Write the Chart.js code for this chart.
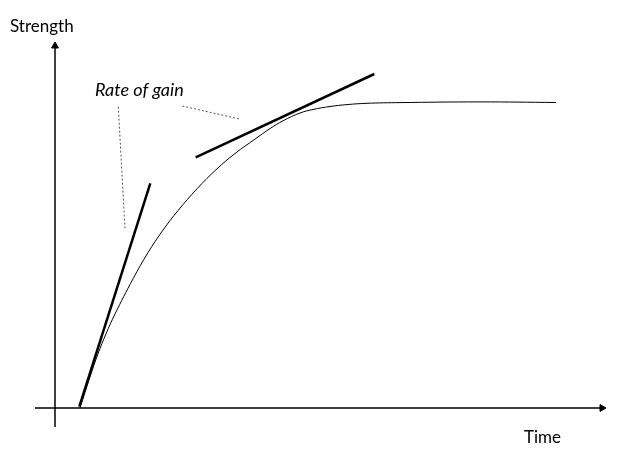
<!DOCTYPE html>
<html>
<head>
<meta charset="utf-8">
<script src="https://cdn.jsdelivr.net/npm/chart.js@4.4.1/dist/chart.umd.min.js"></script>
<style>
html,body{margin:0;padding:0;background:#fff;}
#c{display:block;}
</style>
</head>
<body>
<canvas id="c" width="630" height="465"></canvas>
<script>
// Data (arbitrary units: time along x, strength along y)
const curveTime     = [25, 35, 43, 51, 60, 78, 93, 108, 123, 142, 162, 180, 200, 215, 228, 245, 258, 275, 292, 312, 345, 425, 501];
const curveStrength = [0, 31, 54.2, 74.2, 94, 129.1, 155.4, 177.9, 197.4, 219.2, 239.2, 254.5, 268.9, 279.4, 287.2, 295, 298.5, 301.5, 303.4, 304.7, 305.4, 306.1, 305.5];
const tangent1Time     = [24.3, 95.3];
const tangent1Strength = [1.3, 224.7];
const tangent2Time     = [140.7, 319.3];
const tangent2Strength = [250.7, 334];
const leader1Time     = [63.3, 70];
const leader1Strength = [301.3, 179.7];
const leader2Time     = [127.3, 185.7];
const leader2Strength = [302, 288.7];
const xAxisTime = [-20, 547];
const yAxisStrength = [-19, 362];
const labels = {y: 'Strength', x: 'Time', note: 'Rate of gain'};

const pts = (xs, ys) => xs.map((x, i) => ({x: x, y: ys[i]}));

const textPlugin = {
  id: 'texts',
  afterDraw(chart) {
    const ctx = chart.ctx;
    ctx.save();
    ctx.fillStyle = '#000';
    ctx.textBaseline = 'alphabetic';
    ctx.textAlign = 'left';
    ctx.font = '17px Lato, "Open Sans", sans-serif';
    ctx.fillText(labels.y, 10, 32);
    ctx.fillText(labels.x, 524, 443);
    ctx.font = 'italic 18px Lato, "Open Sans", sans-serif';
    ctx.fillText(labels.note, 95, 96);
    ctx.restore();
  }
};

new Chart(document.getElementById('c'), {
  type: 'scatter',
  data: {
    datasets: [
      {
        data: pts(curveTime, curveStrength),
        showLine: true, borderColor: '#000', borderWidth: 1,
        pointRadius: 0, tension: 0.4
      },
      {
        data: pts(tangent1Time, tangent1Strength),
        showLine: true, borderColor: '#000', borderWidth: 2.5, pointRadius: 0
      },
      {
        data: pts(tangent2Time, tangent2Strength),
        showLine: true, borderColor: '#000', borderWidth: 2.5, pointRadius: 0
      },
      {
        data: pts(leader1Time, leader1Strength),
        showLine: true, borderColor: '#555', borderWidth: 1, borderDash: [2, 2], pointRadius: 0
      },
      {
        data: pts(leader2Time, leader2Strength),
        showLine: true, borderColor: '#555', borderWidth: 1, borderDash: [2, 2], pointRadius: 0
      },
      {
        data: xAxisTime.map(x => ({x: x, y: 0})),
        showLine: true, borderColor: '#000', borderWidth: 1.5,
        pointRadius: [0, 4], pointStyle: 'triangle', pointRotation: 90,
        pointBackgroundColor: '#000', pointBorderColor: '#000', pointBorderWidth: 1
      },
      {
        data: yAxisStrength.map(y => ({x: 0, y: y})),
        showLine: true, borderColor: '#000', borderWidth: 1.5,
        pointRadius: [0, 4], pointStyle: 'triangle', pointRotation: 0,
        pointBackgroundColor: '#000', pointBorderColor: '#000', pointBorderWidth: 1
      }
    ]
  },
  options: {
    responsive: false,
    animation: false,
    layout: {padding: {left: 35, right: 24, top: 42, bottom: 38}},
    plugins: {legend: {display: false}, tooltip: {enabled: false}},
    scales: {
      x: {type: 'linear', min: -20, max: 551, display: false},
      y: {type: 'linear', min: -19, max: 366, display: false}
    }
  },
  plugins: [textPlugin]
});
</script>
</body>
</html>
